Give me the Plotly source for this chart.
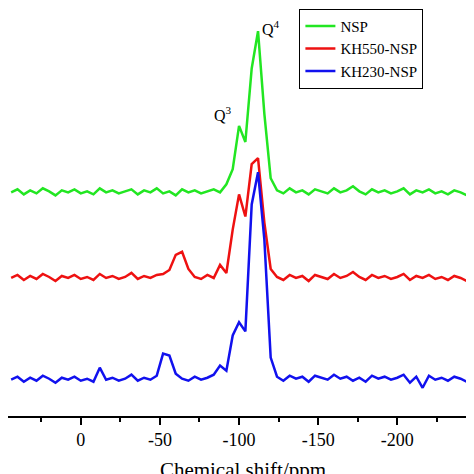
import plotly.graph_objects as go

# chemical shift (ppm), sampled every 4 ppm
shift = [44 - 4 * i for i in range(74)]

nsp = [222, 225, 220, 224, 221, 226, 223, 219, 224, 222,
       225, 221, 223, 220, 226, 222, 224, 221, 223, 225,
       220, 224, 222, 226, 221, 223, 219, 225, 222, 224,
       221, 223, 225, 222, 230, 245, 288, 272, 345, 382,
       300, 236, 224, 221, 226, 222, 224, 220, 225, 223,
       221, 226, 222, 224, 228, 223, 220, 225, 222, 224,
       221, 223, 226, 220, 224, 222, 225, 221, 223, 220,
       224, 222, 219, 223]

kh550 = [137, 140, 135, 139, 136, 141, 138, 134, 139, 137,
         140, 136, 138, 135, 141, 137, 139, 136, 138, 142,
         136, 139, 137, 140, 141, 145, 160, 163, 146, 138,
         136, 140, 137, 150, 142, 185, 220, 198, 250, 256,
         192, 146, 138, 135, 140, 137, 139, 134, 140, 138,
         136, 141, 137, 139, 143, 138, 135, 140, 137, 139,
         136, 138, 141, 135, 139, 137, 140, 136, 138, 135,
         139, 137, 134, 138]

kh230 = [36, 39, 34, 38, 35, 40, 37, 33, 38, 36,
         39, 35, 37, 34, 48, 36, 38, 35, 37, 41,
         35, 38, 36, 40, 62, 60, 42, 37, 35, 39,
         36, 38, 41, 50, 45, 80, 93, 84, 210, 242,
         175, 58, 39, 35, 40, 37, 39, 34, 40, 38,
         36, 41, 37, 39, 35, 38, 34, 40, 37, 39,
         36, 38, 41, 33, 39, 28, 40, 36, 38, 35,
         39, 37, 34, 38]

tick_vals = [50, 0, -50, -100, -150, -200, -250]
tick_text = ["50", "0", "-50", "-100", "-150", "-200", "-250"]

font = "Liberation Serif"

fig = go.Figure()
for name, ys, col in [("NSP", nsp, "#22e622"),
                      ("KH550-NSP", kh550, "#ee1111"),
                      ("KH230-NSP", kh230, "#1111ee")]:
    fig.add_trace(go.Scatter(x=shift, y=ys, mode="lines", name=name,
                             line=dict(color=col, width=2.5)))

fig.add_annotation(x=-97, y=300, text="Q<sup>3</sup>", showarrow=False,
                   xanchor="right", font=dict(family=font, size=16, color="black"))
fig.add_annotation(x=-113, y=385, text="Q<sup>4</sup>", showarrow=False,
                   xanchor="left", font=dict(family=font, size=16, color="black"))

fig.update_layout(
    width=474, height=474,
    margin=dict(l=0, r=4, t=0, b=66),
    plot_bgcolor="white", paper_bgcolor="white",
    font=dict(family=font, size=18, color="black"),
    showlegend=True,
    legend=dict(x=0.62, y=0.998, xanchor="left", yanchor="top",
                bordercolor="black", borderwidth=1, bgcolor="white",
                font=dict(family=font, size=15), tracegroupgap=2),
    xaxis=dict(range=[46, -251], showline=True, linecolor="black", linewidth=1.5,
               ticks="outside", ticklen=7, tickwidth=1.5, tickcolor="black",
               tickvals=tick_vals, ticktext=tick_text, showgrid=False, zeroline=False,
               minor=dict(tickvals=[25, -25, -75, -125, -175, -225], ticks="outside",
                          ticklen=4, tickwidth=1.5, tickcolor="black"),
               title=dict(text="Chemical shift/ppm", font=dict(size=21), standoff=14)),
    yaxis=dict(range=[0, 405], visible=False),
)

fig.write_html("out.html")
